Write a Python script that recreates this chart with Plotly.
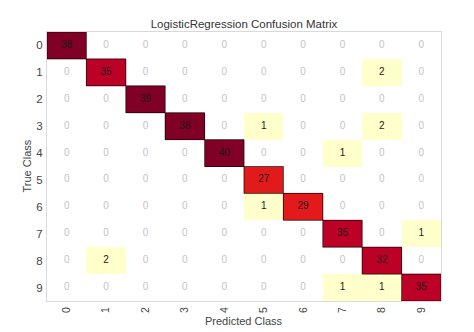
import plotly.graph_objects as go

# Class labels (digits) and confusion-matrix counts: rows = true class, cols = predicted class
classes = ["0", "1", "2", "3", "4", "5", "6", "7", "8", "9"]
counts = [
    [38, 0, 0, 0, 0, 0, 0, 0, 0, 0],
    [0, 35, 0, 0, 0, 0, 0, 0, 2, 0],
    [0, 0, 39, 0, 0, 0, 0, 0, 0, 0],
    [0, 0, 0, 38, 0, 1, 0, 0, 2, 0],
    [0, 0, 0, 0, 40, 0, 0, 1, 0, 0],
    [0, 0, 0, 0, 0, 27, 0, 0, 0, 0],
    [0, 0, 0, 0, 0, 1, 29, 0, 0, 0],
    [0, 0, 0, 0, 0, 0, 0, 35, 0, 1],
    [0, 2, 0, 0, 0, 0, 0, 0, 32, 0],
    [0, 0, 0, 0, 0, 0, 0, 1, 1, 35],
]

# 9-step YlOrRd sequence used as a discrete (listed) colormap
ylorrd9 = ["#ffffcc", "#ffeda0", "#fed976", "#feb24c", "#fd8d3c",
           "#fc4e2a", "#e31a1c", "#bd0026", "#800026"]

n = len(classes)
vmax = max(max(r) for r in counts)

# stepped colorscale: each colour covers an equal slice of [0, vmax]
k = len(ylorrd9)
colorscale = []
for idx, c in enumerate(ylorrd9):
    colorscale.append([idx / k, c])
    colorscale.append([(idx + 1) / k, c])

# zero cells are left blank (white)
z = [[v if v > 0 else None for v in row] for row in counts]

FONT = "Liberation Sans, Arial, sans-serif"
W, H = 474, 332
ML, MR, MT, MB = 47, 33, 32, 31
PW, PH = W - ML - MR, H - MT - MB

fig = go.Figure()
fig.add_trace(go.Heatmap(
    z=z, x=list(range(n)), y=list(range(n)),
    colorscale=colorscale, zmin=0, zmax=vmax,
    showscale=False, xgap=0, ygap=0, hoverinfo="skip",
))

# dark outlines around the strongly coloured cells
ox, oy = [], []
for i in range(n):
    for j in range(n):
        if counts[i][j] > vmax / 2:
            ox += [j - 0.5, j + 0.5, j + 0.5, j - 0.5, j - 0.5, None]
            oy += [i - 0.5, i - 0.5, i + 0.5, i + 0.5, i - 0.5, None]
fig.add_trace(go.Scatter(x=ox, y=oy, mode="lines",
                         line=dict(color="rgba(30,0,0,0.75)", width=1),
                         hoverinfo="skip", showlegend=False))

# cell labels: grey for zeros, black otherwise
zx, zy, zt, nx, ny, nt = [], [], [], [], [], []
for i in range(n):
    for j in range(n):
        v = counts[i][j]
        if v == 0:
            zx.append(j); zy.append(i); zt.append(str(v))
        else:
            nx.append(j); ny.append(i); nt.append(str(v))
fig.add_trace(go.Scatter(x=zx, y=zy, text=zt, mode="text",
                         textfont=dict(family=FONT, size=10, color="#c4c4c4"),
                         hoverinfo="skip", showlegend=False))
fig.add_trace(go.Scatter(x=nx, y=ny, text=nt, mode="text",
                         textfont=dict(family=FONT, size=10, color="#1a1a1a"),
                         hoverinfo="skip", showlegend=False))

fig.update_layout(
    width=W, height=H,
    margin=dict(l=ML, r=MR, t=MT, b=MB),
    paper_bgcolor="white", plot_bgcolor="white",
    showlegend=False,
    font=dict(family=FONT, color="#333333"),
    title=dict(text="LogisticRegression Confusion Matrix",
               x=0.5, xref="paper", xanchor="center",
               y=1 - 24 / H, yref="container", yanchor="middle",
               font=dict(size=11.5, color="#333333")),
    annotations=[
        dict(text="Predicted Class", xref="paper", yref="paper",
             x=0.5, y=-(321 - (H - MB)) / PH, xanchor="center", yanchor="middle",
             showarrow=False, font=dict(size=11, color="#444444")),
        dict(text="True Class", xref="paper", yref="paper",
             x=-(ML - 26) / PW, y=0.5, xanchor="center", yanchor="middle",
             textangle=-90, showarrow=False, font=dict(size=11, color="#444444")),
    ],
)
fig.update_xaxes(
    tickmode="array", tickvals=list(range(n)), ticktext=classes,
    tickangle=-90, tickfont=dict(size=10.5, color="#444444"),
    range=[-0.5, n - 0.5], showgrid=False, zeroline=False,
    showline=True, linecolor="#d9d9d9", linewidth=1, mirror=True,
    ticks="", ticklabelstandoff=1,
    automargin=False,
)
fig.update_yaxes(
    tickmode="array", tickvals=list(range(n)), ticktext=classes,
    tickfont=dict(size=11.5, color="#444444"),
    range=[n - 0.5, -0.5], showgrid=False, zeroline=False,
    showline=True, linecolor="#d9d9d9", linewidth=1, mirror=True,
    ticks="", ticklabelstandoff=1,
    automargin=False,
)

fig.write_html("out.html")
